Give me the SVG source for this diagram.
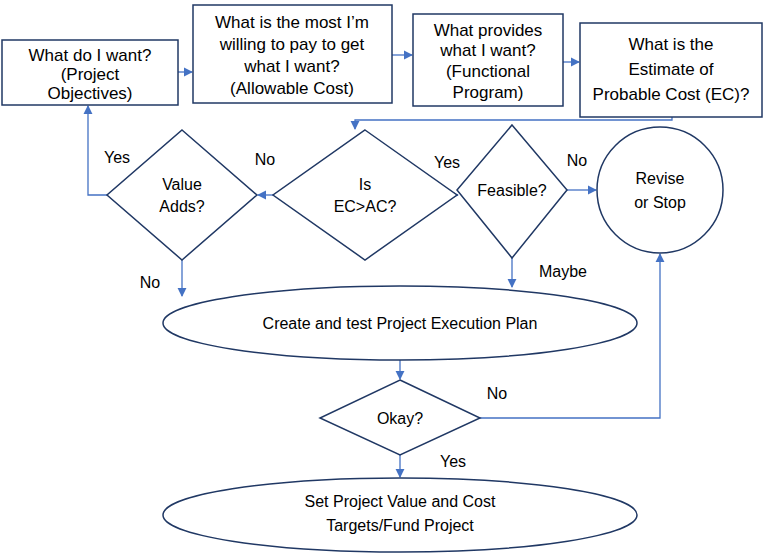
<svg xmlns="http://www.w3.org/2000/svg" width="768" height="553" viewBox="0 0 768 553">
<style>
.s{fill:#fff;stroke:#203864;stroke-width:1.5}
.c{fill:none;stroke:#4472c4;stroke-width:1.3}
text{font-family:"Liberation Sans",Arial,sans-serif;font-size:16px;fill:#000;text-anchor:middle}
.b{font-size:17px}
</style>
<defs><marker id="a" viewBox="0 0 10 10" refX="9" refY="5" markerWidth="7" markerHeight="7" orient="auto"><path d="M0,0L10,5L0,10z" fill="#4472c4"/></marker></defs>
<rect width="768" height="553" fill="#fff"/>
<g id="connectors">
<path class="c" d="M178,72H192" marker-end="url(#a)"/>
<path class="c" d="M392,55H412" marker-end="url(#a)"/>
<path class="c" d="M563,62H579" marker-end="url(#a)"/>
<path class="c" d="M672,117V120H355V129" marker-end="url(#a)"/>
<path class="c" d="M273,195H258" marker-end="url(#a)"/>
<path class="c" d="M457,195H458" marker-end="url(#a)"/>
<path class="c" d="M567,190H596" marker-end="url(#a)"/>
<path class="c" d="M107,195H88V106" marker-end="url(#a)"/>
<path class="c" d="M182,260V296" marker-end="url(#a)"/>
<path class="c" d="M512,258V287" marker-end="url(#a)"/>
<path class="c" d="M400,360V379" marker-end="url(#a)"/>
<path class="c" d="M480,418H660V254" marker-end="url(#a)"/>
<path class="c" d="M400,455V477" marker-end="url(#a)"/>
<text x="117" y="163">Yes</text><text x="265" y="165">No</text><text x="447" y="168">Yes</text><text x="577" y="166">No</text>
<text x="150" y="288">No</text><text x="563" y="277">Maybe</text><text x="497" y="399">No</text><text x="453" y="467">Yes</text>
</g>
<g id="n1" class="b"><rect class="s" x="2" y="40" width="176" height="65"/><text class="b" x="90" y="61">What do I want?</text><text class="b" x="90" y="80">(Project</text><text class="b" x="90" y="99">Objectives)</text></g>
<g id="n2"><rect class="s" x="193" y="5" width="199" height="98"/><text class="b" x="292" y="28">What is the most I’m</text><text class="b" x="292" y="50">willing to pay to get</text><text class="b" x="292" y="72">what I want?</text><text class="b" x="292" y="94">(Allowable Cost)</text></g>
<g id="n3"><rect class="s" x="413" y="14" width="150" height="92"/><text class="b" x="488" y="36">What provides</text><text class="b" x="488" y="56">what I want?</text><text class="b" x="488" y="77">(Functional</text><text class="b" x="488" y="98">Program)</text></g>
<g id="n4"><rect class="s" x="580" y="23" width="182" height="94"/><text class="b" x="671" y="50">What is the</text><text class="b" x="671" y="75">Estimate of</text><text class="b" x="671" y="100">Probable Cost (EC)?</text></g>
<g id="d1"><path class="s" d="M182,130L257,195L182,260L107,195z"/><text x="182" y="190">Value</text><text x="182" y="212">Adds?</text></g>
<g id="d2"><path class="s" d="M365,130L457,195L365,260L273,195z"/><text x="365" y="190">Is</text><text x="365" y="212">EC&gt;AC?</text></g>
<g id="d3"><path class="s" d="M512,125L567,190L512,258L457,190z"/><text x="512" y="196">Feasible?</text></g>
<g id="c1"><circle class="s" cx="660" cy="190" r="63"/><text x="660" y="184">Revise</text><text x="660" y="208">or Stop</text></g>
<g id="e1"><ellipse class="s" cx="400" cy="323" rx="237" ry="37"/><text x="400" y="329">Create and test Project Execution Plan</text></g>
<g id="d4"><path class="s" d="M400,380L480,418L400,455L320,418z"/><text x="400" y="424">Okay?</text></g>
<g id="e2"><ellipse class="s" cx="400" cy="515" rx="237" ry="37"/><text x="400" y="507">Set Project Value and Cost</text><text x="400" y="531">Targets/Fund Project</text></g>
</svg>
